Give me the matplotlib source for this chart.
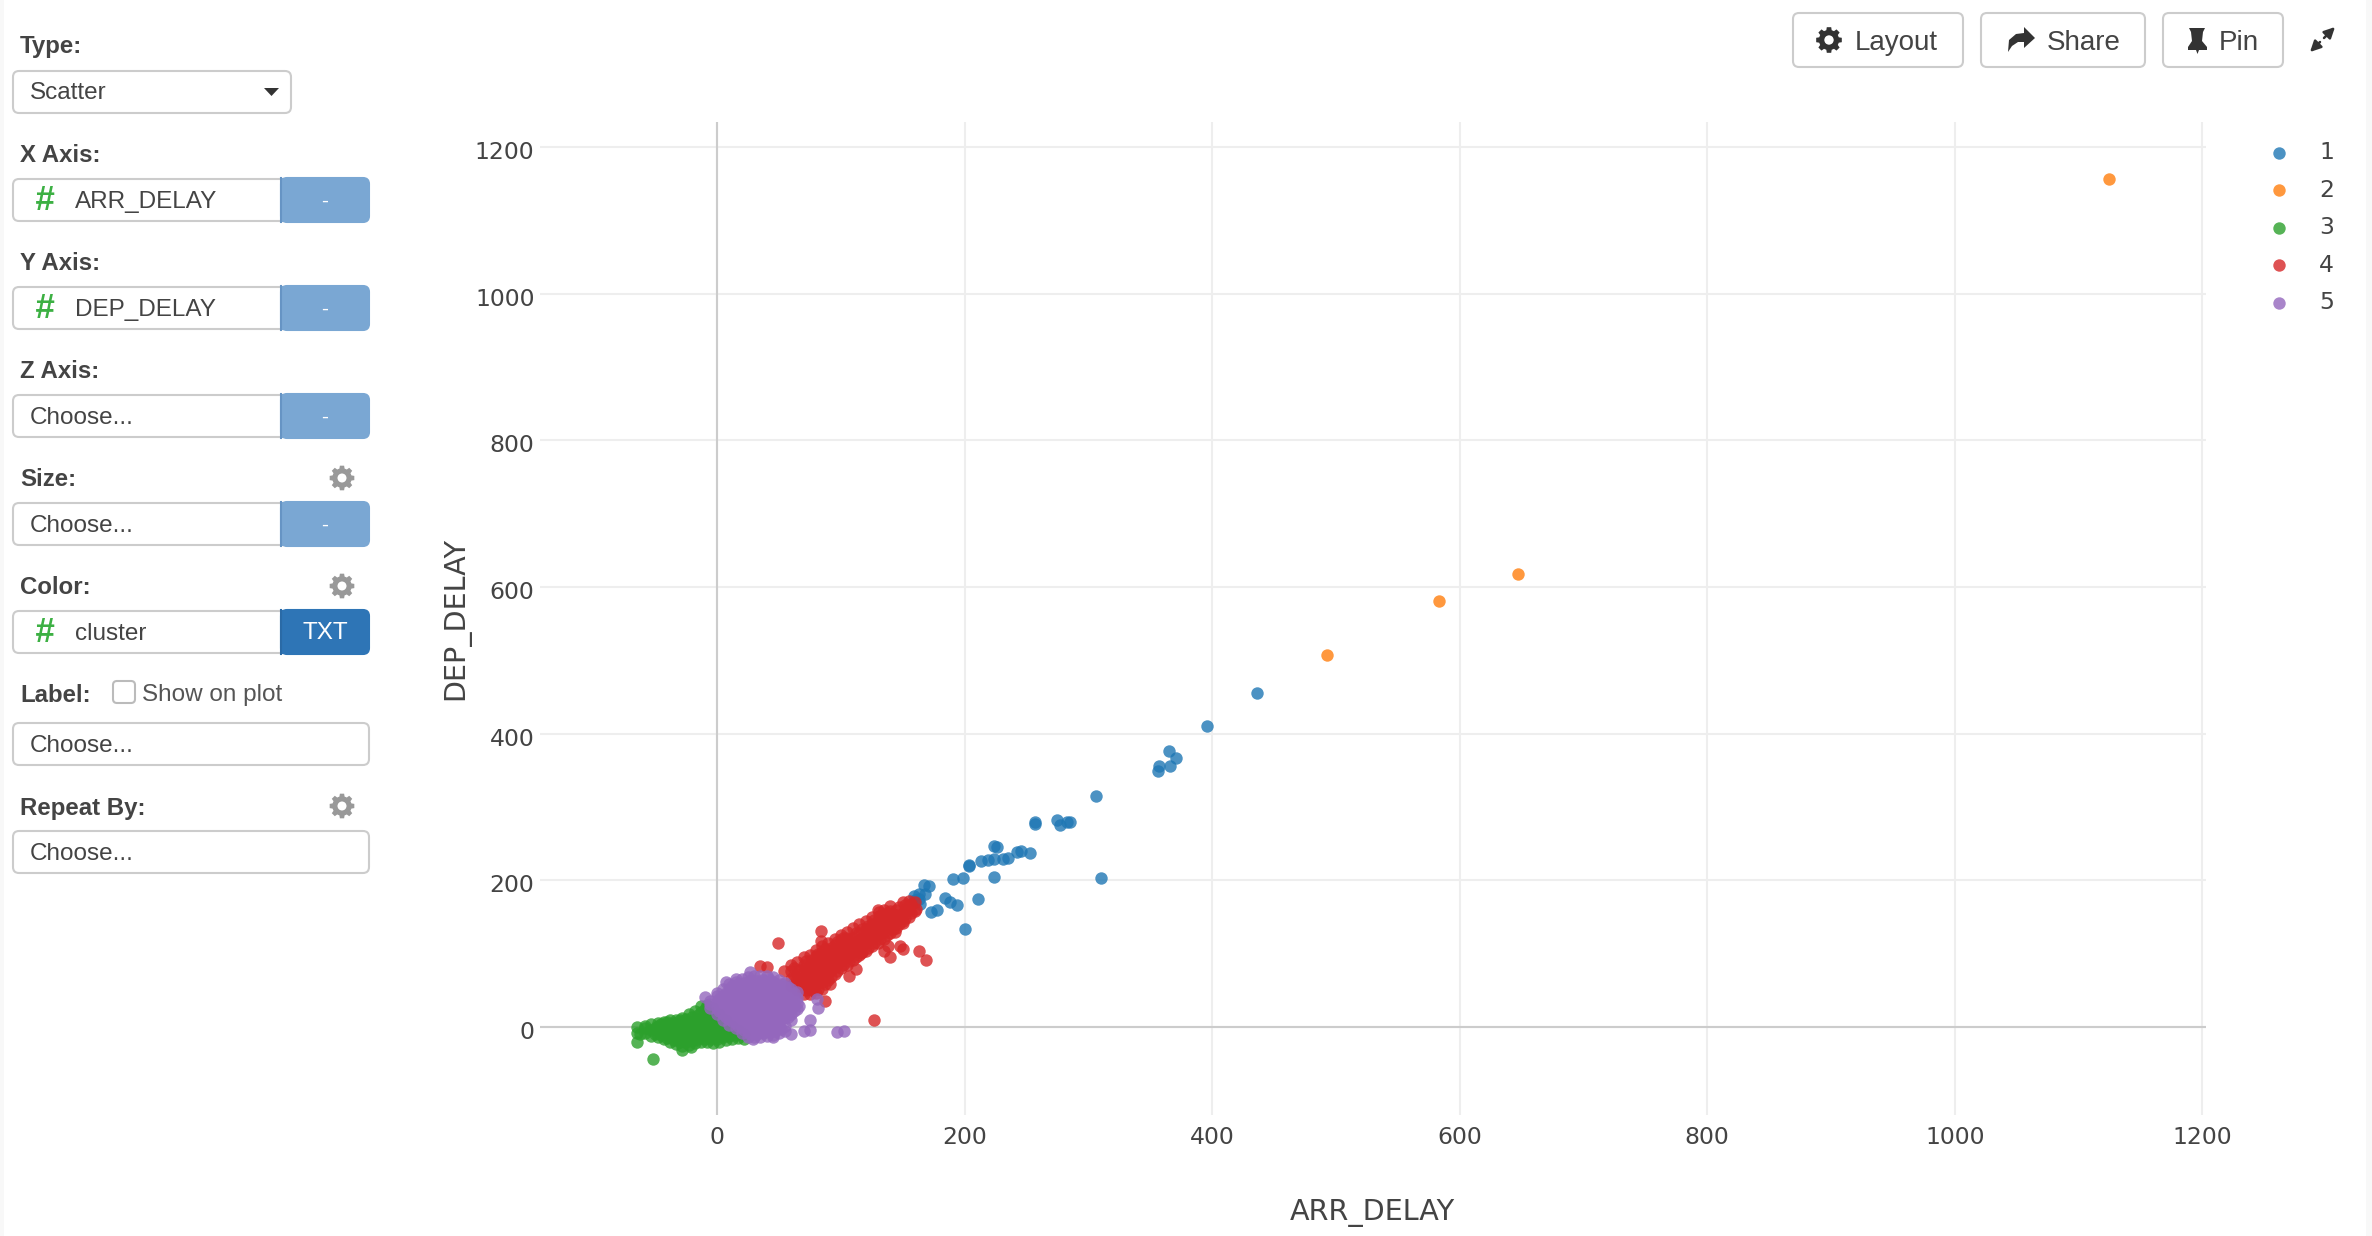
import numpy as np
import matplotlib.pyplot as plt
from matplotlib.patches import FancyBboxPatch, Rectangle, Polygon, Circle
from matplotlib.transforms import ScaledTranslation

# values (ARR_DELAY, DEP_DELAY)
cluster_1 = [(396, 410), (365, 376), (371, 367), (366, 356), (357, 356), (356, 349), (436, 456),
             (306, 315), (257, 280), (257, 277), (275, 282), (277, 275), (283, 279), (285, 279),
             (224, 247), (226, 245), (253, 237), (246, 240), (242, 238), (235, 230), (231, 229),
             (224, 229), (219, 228), (213, 227), (204, 221), (204, 219), (191, 202), (199, 203),
             (224, 205), (310, 203), (184, 176), (188, 171), (194, 166), (211, 174), (178, 159),
             (173, 157), (200, 134), (167, 194), (171, 192), (168, 181), (163, 182), (159, 179),
             (163, 175), (160, 173), (164, 168)]
cluster_2 = [(1125, 1156), (647, 618), (583, 581), (493, 507)]
cluster_3 = [(-65, 0), (-65, -8), (-65, -20), (-62, -10), (-52, -44), (-28, -32), (-21, -27),
             (-58, -8), (-58, -2), (-58, 2), (-53, -12), (-53, -4), (-53, 4),
             (-48, -14), (-48, -6), (-48, 2), (-48, 6), (-43, -16), (-43, -8), (-43, 0), (-43, 7),
             (-38, -20), (-38, -12), (-38, -4), (-38, 4), (-38, 10),
             (-33, -23), (-33, -15), (-33, -7), (-33, 1), (-33, 10),
             (-28, -26), (-28, -18), (-28, -10), (-28, -2), (-28, 6), (-28, 12),
             (-23, -25), (-23, -17), (-23, -9), (-23, -1), (-23, 7), (-23, 18),
             (-18, -22), (-18, -14), (-18, -6), (-18, 2), (-18, 10), (-18, 22),
             (-13, -20), (-13, -12), (-13, -4), (-13, 4), (-13, 12), (-13, 20), (-13, 28),
             (-8, -20), (-8, -12), (-8, -4), (-8, 4), (-8, 12), (-8, 20), (-8, 30),
             (-3, -22), (-3, -14), (-3, -6), (-3, 2), (-3, 10), (-3, 18), (-3, 26),
             (2, -20), (2, -12), (2, -4), (2, 4), (2, 12), (2, 18),
             (7, -18), (7, -10), (7, -2), (7, 4), (7, 10),
             (12, -16), (12, -8), (12, 2), (17, -15), (17, -8), (17, -4), (22, -16), (22, -10)]
cluster_3_core = [(-50, -9), (-50, -2), (-45, -11), (-45, -3), (-45, 4), (-40, -15), (-40, -8), (-40, 0), (-40, 7),
                  (-35, -18), (-35, -11), (-35, -3), (-35, 5), (-30, -21), (-30, -13), (-30, -5), (-30, 3), (-30, 9),
                  (-25, -21), (-25, -13), (-25, -5), (-25, 3), (-25, 11), (-20, -18), (-20, -10), (-20, -2), (-20, 6), (-20, 14),
                  (-15, -16), (-15, -8), (-15, 0), (-15, 8), (-15, 16), (-10, -16), (-10, -8), (-10, 0), (-10, 8), (-10, 16), (-10, 24),
                  (-5, -17), (-5, -9), (-5, -1), (-5, 7), (-5, 15), (-5, 22), (0, -16), (0, -8), (0, 0), (0, 8), (0, 15),
                  (5, -14), (5, -6), (5, 2), (5, 8), (10, -12), (10, -4), (10, 2), (15, -11), (15, -6)]
cluster_4 = [(49, 114), (84, 131), (84, 117), (35, 83), (40, 82), (127, 10), (87, 35), (91, 58),
             (107, 69), (112, 79), (116, 101), (135, 103), (140, 96), (148, 110), (150, 107),
             (163, 103), (169, 92), (138, 111), (131, 157), (131, 151), (145, 153), (150, 145),
             (152, 166), (157, 166), (161, 161), (144, 130),
             (54, 76), (60, 56), (60, 66), (60, 76), (60, 84), (65, 50), (65, 60), (65, 72), (65, 88),
             (70, 45), (70, 55), (70, 65), (70, 75), (70, 85), (70, 95),
             (75, 45), (75, 55), (75, 65), (75, 75), (75, 85), (75, 98),
             (80, 47), (80, 57), (80, 67), (80, 77), (80, 87), (80, 97), (80, 105),
             (85, 52), (85, 62), (85, 72), (85, 82), (85, 92), (85, 102), (85, 110),
             (90, 64), (90, 74), (90, 84), (90, 94), (90, 104), (90, 115),
             (95, 72), (95, 82), (95, 92), (95, 102), (95, 112), (95, 120),
             (100, 80), (100, 90), (100, 100), (100, 110), (100, 118), (100, 125),
             (105, 85), (105, 95), (105, 105), (105, 115), (105, 122), (105, 130),
             (110, 92), (110, 102), (110, 112), (110, 122), (110, 135),
             (115, 98), (115, 108), (115, 118), (115, 128), (115, 140),
             (120, 104), (120, 114), (120, 124), (120, 134), (120, 145),
             (125, 110), (125, 120), (125, 130), (125, 140), (125, 150),
             (130, 115), (130, 125), (130, 135), (130, 145), (130, 160),
             (135, 120), (135, 130), (135, 140), (135, 150), (135, 160),
             (140, 128), (140, 138), (140, 148), (140, 158), (140, 165),
             (145, 135), (145, 145), (145, 160), (150, 142), (150, 155), (150, 170),
             (155, 150), (155, 160), (155, 172), (160, 158), (160, 170)]
cluster_4_core = [(62, 60), (62, 70), (62, 80), (67, 55), (67, 66), (67, 78), (72, 50), (72, 60), (72, 70), (72, 80), (72, 90),
                  (77, 50), (77, 60), (77, 70), (77, 80), (77, 92), (82, 52), (82, 62), (82, 72), (82, 82), (82, 92), (82, 100),
                  (87, 58), (87, 68), (87, 78), (87, 88), (87, 98), (87, 106), (92, 68), (92, 78), (92, 88), (92, 98), (92, 108),
                  (97, 76), (97, 86), (97, 96), (97, 106), (97, 116), (102, 84), (102, 94), (102, 104), (102, 114), (102, 122),
                  (107, 90), (107, 100), (107, 110), (107, 120), (112, 96), (112, 106), (112, 116), (112, 128),
                  (117, 102), (117, 112), (117, 122), (117, 134), (122, 108), (122, 118), (122, 128), (122, 138),
                  (127, 114), (127, 124), (127, 134), (127, 146), (132, 120), (132, 130), (132, 140), (132, 152),
                  (137, 126), (137, 136), (137, 146), (137, 156), (142, 134), (142, 144), (142, 154), (147, 140), (147, 152), (147, 164),
                  (152, 148), (152, 160), (157, 156), (157, 168)]
cluster_5 = [(-10, 41), (7, 61), (15, 66), (27, 75), (81, 38), (82, 26), (75, 10), (75, -4), (70, -5),
             (60, -9), (97, -7), (103, -5), (66, 28), (29, -16), (45, -13),
             (-6, 26), (-6, 32), (-6, 36), (0, 18), (0, 26), (0, 34), (0, 42), (0, 46),
             (5, 10), (5, 18), (5, 26), (5, 34), (5, 42), (5, 52),
             (10, 3), (10, 11), (10, 19), (10, 27), (10, 35), (10, 43), (10, 51), (10, 58),
             (15, -2), (15, 6), (15, 14), (15, 22), (15, 30), (15, 38), (15, 46), (15, 54), (15, 62),
             (20, -8), (20, 0), (20, 8), (20, 16), (20, 24), (20, 32), (20, 40), (20, 48), (20, 56), (20, 66),
             (25, -13), (25, -5), (25, 3), (25, 11), (25, 19), (25, 27), (25, 35), (25, 43), (25, 51), (25, 59), (25, 68),
             (30, -14), (30, -6), (30, 2), (30, 10), (30, 18), (30, 26), (30, 34), (30, 42), (30, 50), (30, 58), (30, 70),
             (35, -13), (35, -5), (35, 3), (35, 11), (35, 19), (35, 27), (35, 35), (35, 43), (35, 51), (35, 59), (35, 70),
             (40, -12), (40, -4), (40, 4), (40, 12), (40, 20), (40, 28), (40, 36), (40, 44), (40, 52), (40, 60), (40, 70),
             (45, -11), (45, -3), (45, 5), (45, 13), (45, 21), (45, 29), (45, 37), (45, 45), (45, 53), (45, 61), (45, 68),
             (50, -8), (50, 0), (50, 8), (50, 16), (50, 24), (50, 32), (50, 40), (50, 48), (50, 56), (50, 64),
             (55, -6), (55, 2), (55, 14), (55, 22), (55, 30), (55, 38), (55, 46), (55, 54), (55, 60),
             (60, 10), (60, 18), (60, 26), (60, 34), (60, 42), (60, 52), (65, 25), (65, 33), (65, 40), (65, 48)]
cluster_5_core = [(2, 22), (2, 30), (2, 38), (7, 14), (7, 22), (7, 30), (7, 38), (7, 46),
                  (12, 8), (12, 16), (12, 24), (12, 32), (12, 40), (12, 48), (12, 56),
                  (17, 2), (17, 10), (17, 18), (17, 26), (17, 34), (17, 42), (17, 50), (17, 58),
                  (22, -4), (22, 4), (22, 12), (22, 20), (22, 28), (22, 36), (22, 44), (22, 52), (22, 60),
                  (27, -9), (27, -1), (27, 7), (27, 15), (27, 23), (27, 31), (27, 39), (27, 47), (27, 55), (27, 63),
                  (32, -9), (32, -1), (32, 7), (32, 15), (32, 23), (32, 31), (32, 39), (32, 47), (32, 55), (32, 63),
                  (37, -8), (37, 0), (37, 8), (37, 16), (37, 24), (37, 32), (37, 40), (37, 48), (37, 56), (37, 64),
                  (42, -7), (42, 1), (42, 9), (42, 17), (42, 25), (42, 33), (42, 41), (42, 49), (42, 57), (42, 65),
                  (47, -6), (47, 2), (47, 10), (47, 18), (47, 26), (47, 34), (47, 42), (47, 50), (47, 58),
                  (52, -3), (52, 10), (52, 18), (52, 26), (52, 34), (52, 42), (52, 50), (52, 58),
                  (57, 14), (57, 22), (57, 30), (57, 38), (57, 46), (57, 54), (62, 22), (62, 30), (62, 38), (62, 46)]

clusters = [cluster_1, cluster_2, cluster_3 + cluster_3_core, cluster_4 + cluster_4_core, cluster_5 + cluster_5_core]
cluster_names = ['1', '2', '3', '4', '5']
cluster_colors = ['#1f77b4', '#ff7f0e', '#2ca02c', '#d62728', '#9467bd']
x_ticks = [0, 200, 400, 600, 800, 1000, 1200]
y_ticks = [0, 200, 400, 600, 800, 1000, 1200]

W, H = 2372, 1236
TEXT = '#444444'
UI_FONT = 'Liberation Sans'

fig = plt.figure(figsize=(W / 100, H / 100), dpi=100, facecolor='white')

# plot area, in picture pixels
left, right, top, bottom = 540, 2206, 122, 1115
ax = fig.add_axes([left / W, 1 - bottom / H, (right - left) / W, (bottom - top) / H])

for points, name, color in zip(clusters, cluster_names, cluster_colors):
    pts = np.array(points)
    ax.scatter(pts[:, 0], pts[:, 1], s=80, color=color, alpha=0.8, linewidths=0, label=name, zorder=3)

ax.set_xlim(-143, 1203)
ax.set_ylim(-120, 1234)
ax.set_xticks(x_ticks)
ax.set_yticks(y_ticks)
ax.grid(True, color='#eeeeee', linewidth=1.5, zorder=0)
ax.set_axisbelow(True)
ax.axhline(0, color='#cccccc', linewidth=1.5, zorder=1)
ax.axvline(0, color='#cccccc', linewidth=1.5, zorder=1)
for side in ax.spines.values():
    side.set_visible(False)
ax.tick_params(length=0, labelsize=16.9, labelcolor=TEXT, pad=4)
ax.tick_params(axis='x', pad=8)
# y tick labels sit a little under their gridlines
nudge = ScaledTranslation(0, -3 / 100, fig.dpi_scale_trans)
for lab in ax.get_yticklabels():
    lab.set_transform(lab.get_transform() + nudge)

leg = ax.legend(loc='upper left', bbox_to_anchor=(2267.5 / W, 1 - 141 / H),
                bbox_transform=fig.transFigure, frameon=False, borderpad=0, borderaxespad=0,
                handlelength=1, handletextpad=1.2, labelspacing=0.62, scatterpoints=1,
                prop={'family': 'DejaVu Sans', 'size': 16.9}, labelcolor=TEXT)

# everything around the chart is drawn on a pixel-sized overlay
ui = fig.add_axes([0, 0, 1, 1], facecolor='none')
ui.set_xlim(0, W)
ui.set_ylim(H, 0)
ui.axis('off')


def box(x0, x1, y0, y1, face='white', edge='#cccccc', r=6):
    ui.add_patch(FancyBboxPatch((x0, y0), x1 - x0, y1 - y0, boxstyle=f'round,pad=0,rounding_size={r}',
                                facecolor=face, edgecolor=edge, linewidth=1.5))


def label(x, y, s, bold=False, size=17.5, color=TEXT, ha='left', rotation=0, family=UI_FONT):
    ui.text(x, y + 2, s, fontsize=size, color=color, ha=ha, va='center', fontweight='bold' if bold else 'normal',
            rotation=rotation, family=family)


def gear(x, y, radius, color):
    # eight teeth around a disc with a white hole
    corners = []
    for i in range(8):
        mid = i * np.pi / 4
        for off, rad in [(-0.27, 0.78), (-0.17, 1.0), (0.17, 1.0), (0.27, 0.78)]:
            corners.append((x + radius * rad * np.cos(mid + off), y + radius * rad * np.sin(mid + off)))
    ui.add_patch(Polygon(corners, closed=True, facecolor=color, edgecolor='none'))
    ui.add_patch(Circle((x, y), radius * 0.36, facecolor='white', edgecolor='none'))


def field(y0, text, hashed=False, btn=None):
    y1 = y0 + 42
    if btn is None:
        box(13, 369, y0, y1)
    else:
        box(13, 290, y0, y1)
        face = '#2e75b6' if btn == 'TXT' else '#7aa7d3'
        line = '#2a6aa6' if btn == 'TXT' else '#6694c4'
        box(281, 369, y0 - 1, y1 + 1, face=face, edge=face)
        ui.add_patch(Rectangle((280, y0 - 1), 9, y1 - y0 + 2, facecolor=face, edgecolor='none'))
        ui.add_line(plt.Line2D([281, 281], [y0 - 1, y1 + 1], color=line, linewidth=1.5))
        label(325, y0 + 20, btn, ha='center', color='white', size=17.5 if btn == 'TXT' else 15)
    if hashed:
        ui.text(45, y0 + 22, '#', fontsize=25, color='#3cb043', ha='center', va='center',
                fontweight='bold', style='italic', family=UI_FONT)
        label(75, y0 + 21, text)
    else:
        label(30, y0 + 21, text)


# side panel
ui.add_patch(Rectangle((0, 0), 4, H, facecolor='#f8f8f8', edgecolor='none'))
ui.add_patch(Rectangle((W - 6, 0), 6, H, facecolor='#f8f8f8', edgecolor='none'))

label(20, 45, 'Type:', bold=True, size=17.3)
box(13, 291, 71, 113)
label(30, 91, 'Scatter')
ui.add_patch(Polygon([(264, 88), (279, 88), (271.5, 96)], closed=True, facecolor='#333333', edgecolor='none'))

label(20, 153, 'X Axis:', bold=True, size=17.3)
field(179, 'ARR_DELAY', hashed=True, btn='-')
label(20, 261, 'Y Axis:', bold=True, size=17.3)
field(287, 'DEP_DELAY', hashed=True, btn='-')
label(20, 369, 'Z Axis:', bold=True, size=17.3)
field(395, 'Choose...', btn='-')
label(20, 477, 'Size:', bold=True, size=17.3)
gear(342, 478, 12.5, '#999999')
field(503, 'Choose...', btn='-')
label(20, 586, 'Color:', bold=True, size=17.3)
gear(342, 586, 12.5, '#999999')
field(611, 'cluster', hashed=True, btn='TXT')
label(20, 693, 'Label:', bold=True, size=17.3)
box(113, 135, 681, 703, edge='#bbbbbb', r=4)
label(142, 693, 'Show on plot', color='#555555')
field(723, 'Choose...')
label(20, 806, 'Repeat By:', bold=True, size=17.3)
gear(342, 806, 12.5, '#999999')
field(831, 'Choose...')

# top right buttons
box(1793, 1963, 13, 67)
gear(1829, 40, 13, '#333333')
label(1855, 41, 'Layout', size=20)
box(1981, 2145, 13, 67)
ui.add_patch(Polygon([(2035, 38), (2024, 27), (2024, 33), (2016, 34), (2009, 40), (2008, 52), (2012, 46),
                      (2018, 42), (2024, 42), (2024, 48)], closed=True, facecolor='#333333', edgecolor='none'))
label(2047, 41, 'Share', size=20)
box(2163, 2283, 13, 67)
ui.add_patch(Polygon([(2189, 28), (2205, 28), (2203, 32), (2202, 41), (2207, 47), (2207, 50), (2199, 50),
                      (2197.5, 54), (2196, 50), (2188, 50), (2188, 47), (2192, 41), (2191, 32)],
                     closed=True, facecolor='#333333', edgecolor='none'))
label(2219, 41, 'Pin', size=20)
ui.annotate('', xy=(2335, 27), xytext=(2324, 38), arrowprops=dict(arrowstyle='-|>', color='#333333', lw=1.8, mutation_scale=16, shrinkA=0, shrinkB=0))
ui.annotate('', xy=(2310, 52), xytext=(2320, 42), arrowprops=dict(arrowstyle='-|>', color='#333333', lw=1.8, mutation_scale=16, shrinkA=0, shrinkB=0))

# axis titles
label(1372, 1211, 'ARR_DELAY', size=20.6, ha='center', family='DejaVu Sans')
label(456, 616, 'DEP_DELAY', size=20.6, ha='center', rotation=90, family='DejaVu Sans')

fig.savefig('out.png', dpi=100)
